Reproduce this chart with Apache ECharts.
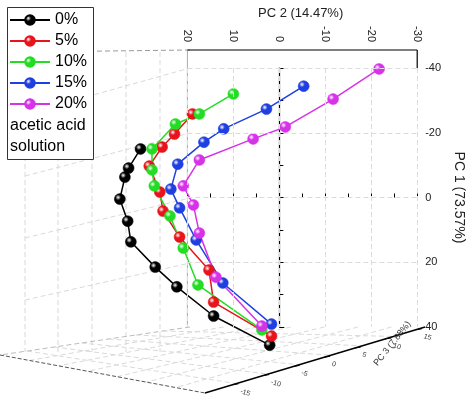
<!DOCTYPE html>
<html><head><meta charset="utf-8">
<script src="https://cdn.jsdelivr.net/npm/echarts@6/dist/echarts.min.js"></script>
<style>html,body{margin:0;padding:0;background:#fff}#c{width:474px;height:405px}</style>
</head><body><div id="c"></div>
<script>
const seriesNames = ['0%','5%','10%','15%','20%'];
const colors = ['#000000','#e8141c','#22dd22','#1f3fe0','#d633e8'];
const pc2_0 = [30.2,32.8,33.6,34.7,33.0,32.3,27.0,22.3,14.3,2.1];
const pc1_0 = [-15.0,-9.1,-6.3,0.5,7.3,13.7,21.5,27.6,36.6,45.6];
const pc2_5 = [18.9,22.8,25.5,28.3,26.0,25.3,21.7,15.3,14.3,1.7];
const pc1_5 = [-25.8,-19.6,-15.6,-9.7,-1.7,4.2,12.2,22.4,32.3,42.8];
const pc2_10 = [10.0,17.4,22.6,27.7,27.7,27.2,23.8,20.9,17.7,3.8];
const pc1_10 = [-32.0,-25.8,-22.7,-15.0,-8.5,-3.6,5.7,15.6,27.0,40.9];
const pc2_15 = [-5.3,2.8,12.1,16.4,22.1,23.6,21.7,18.1,12.3,1.7];
const pc1_15 = [-34.4,-27.3,-21.2,-17.1,-10.3,-2.6,3.2,13.1,26.4,39.1];
const pc2_20 = [-21.7,-11.7,-1.3,5.7,17.4,20.9,18.7,17.4,13.8,3.8];
const pc1_20 = [-39.7,-30.4,-21.8,-18.1,-11.6,-3.6,2.3,11.0,24.6,39.7];
const pc2 = [pc2_0,pc2_5,pc2_10,pc2_15,pc2_20];
const pc1 = [pc1_0,pc1_5,pc1_10,pc1_15,pc1_20];
const pc2Ticks = [-30,-20,-10,0,10,20];
const pc3Ticks = ['15','10','5','0','-5','-10','-15'];

const ch = echarts.init(document.getElementById('c'));
const dash = {stroke:'#d9d9d9',lineWidth:1,lineDash:[5,3]};
const graphics = [];
function L(x1,y1,x2,y2,st){graphics.push({type:'line',silent:true,z:-1,shape:{x1,y1,x2,y2},style:st||dash});}
// left wall
[25,58,92,126,160].forEach(x=>L(x,52,x,352));
L(25,52,190,50,{stroke:'#999',lineWidth:1,lineDash:[5,3]});
for(let i=1;i<5;i++) L(25,52+i*62,190,68+(i-1)*65);
// floor
L(190,327,0,355,{stroke:'#bbb',lineWidth:1,lineDash:[5,3]});
for(let i=1;i<7;i++){const t=i/7; L(190-190*t,327+28*t, 425-220*t, 327+66*t);}
for(let i=1;i<7;i++){const t=i/7; L(190+235*t,327, 0+205*t,355+38*t);}
L(0,355,205,393,{stroke:'#555',lineWidth:1,lineDash:[4,2]});
L(425,327,205,393,{stroke:'#000',lineWidth:1.5});
pc3Ticks.forEach((t,i)=>{const f=(i+0.3)/7.2; const x=425-220*f, y=327+66*f;
  L(x,y,x+6,y-1,{stroke:'#000',lineWidth:1});
  graphics.push({type:'text',silent:true,x:x+9,y:y+3,rotation:-0.3,style:{text:t,fontSize:7,fill:'#333',fontFamily:'Arial'}});});
graphics.push({type:'text',x:372,y:362,rotation:0.9,silent:true,style:{text:'PC 3 (7.88%)',fontSize:9,fill:'#333',fontFamily:'Arial'}});
// legend box and extra text
graphics.push({type:'rect',left:7,top:7,silent:true,z:-1,shape:{width:86,height:152},style:{fill:'#fff',stroke:'#333',lineWidth:1}});
graphics.push({type:'text',left:10,top:115,silent:true,z:5,style:{text:'acetic acid\nsolution',fontSize:16,lineHeight:21,fill:'#000',fontFamily:'Arial'}});
graphics.push({type:'text',left:258,top:7,silent:true,style:{text:'PC 2 (14.47%)',fontSize:13,fill:'#222',fontFamily:'Arial'}});

ch.setOption({
  animation:false,
  legend:{orient:'vertical',left:9,top:12,itemWidth:40,itemHeight:12,itemGap:5,padding:0,
    textStyle:{fontSize:16,color:'#000',fontFamily:'Arial'},data:seriesNames},
  grid:{left:72.5,right:49,top:68,bottom:78},
  xAxis:{type:'value',position:'top',inverse:true,min:-30,max:45,interval:10,offset:18,
    axisLine:{show:false},
    axisTick:{show:true,length:4,customValues:[-30,-25,-20,-15,-10,-5,0,5,10,15,20],lineStyle:{color:'#000'}},
    axisLabel:{rotate:-90,fontSize:11,color:'#222',fontFamily:'Arial',customValues:pc2Ticks},
    splitLine:{show:false}},
  yAxis:{type:'value',position:'right',inverse:true,min:-40,max:40,interval:20,
    name:'PC 1 (73.57%)',nameLocation:'middle',nameGap:30,nameRotate:-90,
    nameTextStyle:{fontSize:14,color:'#222',fontFamily:'Arial'},
    axisLine:{show:true,lineStyle:{color:'#000',width:1.2}},axisTick:{show:true,length:5,lineStyle:{color:'#000'}},
    minorTick:{show:true,splitNumber:2,length:4,lineStyle:{color:'#000'}},
    axisLabel:{fontSize:11,color:'#222',fontFamily:'Arial'},
    splitLine:{show:false}},
  graphic:graphics,
  series:seriesNames.map((n,i)=>({name:n,type:'line',clip:false,symbol:'circle',symbolSize:11,
    color:colors[i],lineStyle:{width:1.5,color:colors[i]},
    itemStyle:{color:{type:'radial',x:0.35,y:0.35,r:0.7,colorStops:[{offset:0,color:'#fff'},{offset:0.35,color:colors[i]},{offset:1,color:colors[i]}]},borderColor:colors[i],borderWidth:0.5},
    data:pc2[i].map((v,j)=>[v,pc1[i][j]])})).concat([{
    type:'line',silent:true,symbol:'none',data:[],legendHoverLink:false,
    markLine:{silent:true,symbol:'none',label:{show:false},
      lineStyle:{color:'#dcdcdc',type:[5,3],width:1},
      data:pc2Ticks.map(v=>({xAxis:v})).concat([-40,-20,0,20].map(v=>[{coord:[20,v]},{coord:[-30,v]}]))}}])
});
const p20 = ch.convertToPixel({gridIndex:0},[20,-40]);
const pm30 = ch.convertToPixel({gridIndex:0},[-30,-40]);
ch.setOption({graphic:graphics.concat([
  {type:'line',silent:true,shape:{x1:p20[0],y1:p20[1]-18,x2:pm30[0],y2:p20[1]-18},style:{stroke:'#000',lineWidth:1.2}},
  {type:'line',silent:true,shape:{x1:pm30[0],y1:p20[1]-18,x2:pm30[0],y2:p20[1]},style:{stroke:'#000',lineWidth:1.2}},
  {type:'line',silent:true,z:-1,shape:{x1:p20[0],y1:p20[1]-18,x2:p20[0],y2:327},style:{stroke:'#aaa',lineWidth:1}}
])});
</script></body></html>
